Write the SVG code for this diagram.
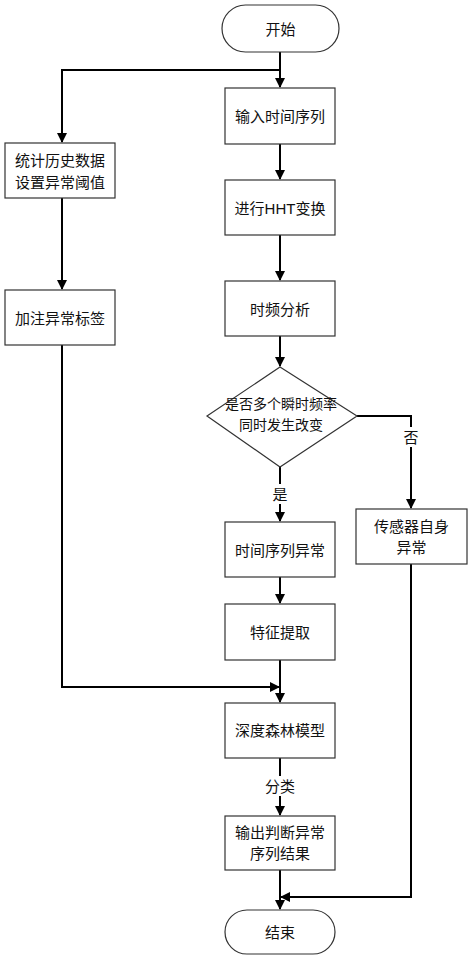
<svg xmlns="http://www.w3.org/2000/svg" width="474" height="962" viewBox="0 0 474 962">
<style>
.box{fill:#fff;stroke:#333;stroke-width:1.2}
.t{font-family:"Liberation Sans","Noto Sans CJK SC",sans-serif;font-size:15px;fill:#111;text-anchor:middle;dominant-baseline:central}
.s{font-size:14px}
.c{fill:none;stroke:#000;stroke-width:2}
</style>
<defs>
<marker id="a" markerWidth="10" markerHeight="10" refX="9" refY="5" orient="auto" markerUnits="userSpaceOnUse">
<path d="M0,0 L10,5 L0,10 Z" fill="#000"/>
</marker>
</defs>
<rect width="474" height="962" fill="#fff"/>
<g id="connectors">
<path class="c" d="M280,52 V87" marker-end="url(#a)"/>
<path class="c" d="M280,70 H62 V142" marker-end="url(#a)"/>
<path class="c" d="M280,144 V179" marker-end="url(#a)"/>
<path class="c" d="M280,235 V280" marker-end="url(#a)"/>
<path class="c" d="M280,336 V366" marker-end="url(#a)"/>
<path class="c" d="M62,198 V289" marker-end="url(#a)"/>
<path class="c" d="M280,467 V521" marker-end="url(#a)"/>
<path class="c" d="M357,416 H411 V508" marker-end="url(#a)"/>
<path class="c" d="M280,577 V603" marker-end="url(#a)"/>
<path class="c" d="M62,345 V687 H279" marker-end="url(#a)"/>
<path class="c" d="M280,660 V702" marker-end="url(#a)"/>
<path class="c" d="M280,758 V815" marker-end="url(#a)"/>
<path class="c" d="M280,870 V909" marker-end="url(#a)"/>
<path class="c" d="M411,564 V897 H281" marker-end="url(#a)"/>
<rect x="270" y="484" width="20" height="20" fill="#fff"/>
<text class="t" x="280" y="494">是</text>
<rect x="401" y="427" width="20" height="20" fill="#fff"/>
<text class="t" x="411" y="437">否</text>
<rect x="266" y="776" width="28" height="20" fill="#fff"/>
<text class="t" x="280" y="786">分类</text>
</g>
<g id="start">
<rect class="box" x="222" y="5" width="117" height="47" rx="23.5"/>
<text class="t" x="280.5" y="29">开始</text>
</g>
<g id="input">
<rect class="box" x="225" y="88" width="110" height="56"/>
<text class="t" x="280" y="116">输入时间序列</text>
</g>
<g id="hht">
<rect class="box" x="225" y="180" width="110" height="55"/>
<text class="t" x="280" y="208">进行HHT变换</text>
</g>
<g id="tf">
<rect class="box" x="225" y="281" width="110" height="55"/>
<text class="t" x="280" y="309">时频分析</text>
</g>
<g id="decision">
<polygon class="box" points="280,367 357,416 280,467 207,416"/>
<text class="t s" x="281" y="404">是否多个瞬时频率</text>
<text class="t s" x="281" y="425">同时发生改变</text>
</g>
<g id="stats">
<rect class="box" x="5" y="143" width="110" height="55"/>
<text class="t" x="60" y="160">统计历史数据</text>
<text class="t" x="60" y="182">设置异常阈值</text>
</g>
<g id="label">
<rect class="box" x="5" y="290" width="110" height="55"/>
<text class="t" x="60" y="318">加注异常标签</text>
</g>
<g id="seqabn">
<rect class="box" x="225" y="522" width="110" height="55"/>
<text class="t" x="280" y="550">时间序列异常</text>
</g>
<g id="sensor">
<rect class="box" x="356" y="509" width="111" height="55"/>
<text class="t" x="411.5" y="526">传感器自身</text>
<text class="t" x="411.5" y="547">异常</text>
</g>
<g id="feature">
<rect class="box" x="225" y="604" width="110" height="56"/>
<text class="t" x="280" y="632">特征提取</text>
</g>
<g id="forest">
<rect class="box" x="225" y="703" width="110" height="55"/>
<text class="t" x="280" y="730">深度森林模型</text>
</g>
<g id="output">
<rect class="box" x="225" y="816" width="110" height="54"/>
<text class="t" x="280" y="832">输出判断异常</text>
<text class="t" x="280" y="853">序列结果</text>
</g>
<g id="end">
<rect class="box" x="225" y="910" width="110" height="44" rx="22"/>
<text class="t" x="280" y="932">结束</text>
</g>
</svg>
